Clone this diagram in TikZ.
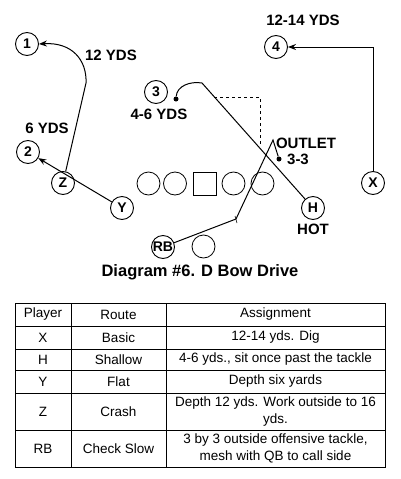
\documentclass[tikz,border=0pt]{standalone}
\usepackage{fontspec}
\setmainfont{Liberation Sans}
\usetikzlibrary{positioning,arrows.meta}

\tikzset{
	player/.style={circle,draw,line width=0.9pt,minimum size=23pt,inner sep=0pt,
		font=\bfseries\fontsize{14}{14}\selectfont},
	lineman/.style={circle,draw,line width=0.8pt,minimum size=23pt,inner sep=0pt},
	snapper/.style={rectangle,draw,line width=0.8pt,minimum size=23pt,inner sep=0pt},
	yds/.style={font=\bfseries\fontsize{15}{15}\selectfont,inner sep=1pt},
	route/.style={line width=1pt},
	dot/.style={circle,fill,inner sep=0pt,minimum size=5pt},
	cell/.style={font=\fontsize{13.5}{17}\selectfont,align=center},
}

\begin{document}
\begin{tikzpicture}[x=1pt,y=-1pt,>={Stealth[length=8pt,width=6pt]}]
	\useasboundingbox (0,0) rectangle (400,479);
% receivers and backs
	\node[player] (one) at (27,44) {1};
	\node[player] (two) at (28,152) {2};
	\node[player] (three) at (156,92) {3};
	\node[player] (four) at (276,47) {4};
	\node[player] (X) at (373,183) {X};
	\node[player] (Z) at (63,183) {Z};
	\node[player] (Y) at (122,208) {Y};
	\node[player] (H) at (313,208) {H};
	\node[player] (RB) at (163,247) {RB};
% offensive line
	\node[lineman] (lt) at (148.5,183.5) {};
	\node[lineman] (lg) at (175,183.5) {};
	\node[snapper] (c) at (204.5,183.5) {};
	\node[lineman] (rg) at (233.5,183.5) {};
	\node[lineman] (rt) at (262.5,183.5) {};
	\node[lineman] (qb) at (203.5,246.5) {};
% depth labels
	\node[yds] (yds12) at (111,55) {12 YDS};
	\node[yds] (yds6) at (47,128) {6 YDS};
	\node[yds] (yds46) at (159,114) {4-6 YDS};
	\node[yds] (yds1214) at (303,20) {12-14 YDS};
	\node[yds] (outlet) at (306,143) {OUTLET};
	\node[yds] (outletd) at (298,159) {3-3};
	\node[yds,below=3pt of H] (hot) {HOT};
% X basic
	\draw[->,route] (X) -- (X.north |- four.east) -- (four.east);
% Y flat
	\draw[->,route] (Y) -- (two);
% Z crash
	\coordinate (zbreak) at (86,83);
	\draw[->,route] (Z) -- (zbreak) .. controls (87,60) and (72,42) .. (one.east);
% H shallow
	\coordinate (hbreak) at (202,83);
	\node[dot] (hend) at (176,99) {};
	\draw[route] (H) -- (hbreak) .. controls (190,81) and (177,86) .. (hend);
% sit
	\coordinate (hsit) at (214,97);
	\draw[route,dashed] (hsit) -- (260,97) -- (260,145);
% RB check slow
	\coordinate (rbbreak) at (236,219);
	\coordinate (rbtop) at (273,140);
	\node[dot] (rbend) at (279,159) {};
	\draw[route] (RB) -- (rbbreak) -- (rbtop) -- (rbend);
	\draw[line width=0.6pt] (235,216) -- (237,223);
% title
	\node[font=\bfseries\fontsize{16.5}{16.5}\selectfont] (title) at (200,272) {Diagram \#6. D Bow Drive};

% table
	\draw[line width=1pt] (15,303) rectangle (385,467);
	\foreach \y in {326,349,370,393,430}
		\draw[line width=0.9pt] (15,\y) -- (385,\y);
	\foreach \x in {71,166}
		\draw[line width=0.9pt] (\x,303) -- (\x,467);
% header
	\node[cell] (hplayer) at (43,314.5) {Player};
	\node[cell] (hroute) at (118.5,314.5) {Route};
	\node[cell] (hassign) at (275.5,314.5) {Assignment};
% rows
	\node[cell] (pX) at (43,337.5) {X};
	\node[cell] (rX) at (118.5,337.5) {Basic};
	\node[cell] (aX) at (275.5,337.5) {12-14 yds. Dig};
	\node[cell] (pH) at (43,359.5) {H};
	\node[cell] (rH) at (118.5,359.5) {Shallow};
	\node[cell] (aH) at (275.5,359.5) {4-6 yds., sit once past the tackle};
	\node[cell] (pY) at (43,381.5) {Y};
	\node[cell] (rY) at (118.5,381.5) {Flat};
	\node[cell] (aY) at (275.5,381.5) {Depth six yards};
	\node[cell] (pZ) at (43,411.5) {Z};
	\node[cell] (rZ) at (118.5,411.5) {Crash};
	\node[cell] (aZ) at (275.5,411.5) {Depth 12 yds. Work outside to 16\\yds.};
	\node[cell] (pRB) at (43,448.5) {RB};
	\node[cell] (rRB) at (118.5,448.5) {Check Slow};
	\node[cell] (aRB) at (275.5,448.5) {3 by 3 outside offensive tackle,\\mesh with QB to call side};
\end{tikzpicture}
\end{document}
